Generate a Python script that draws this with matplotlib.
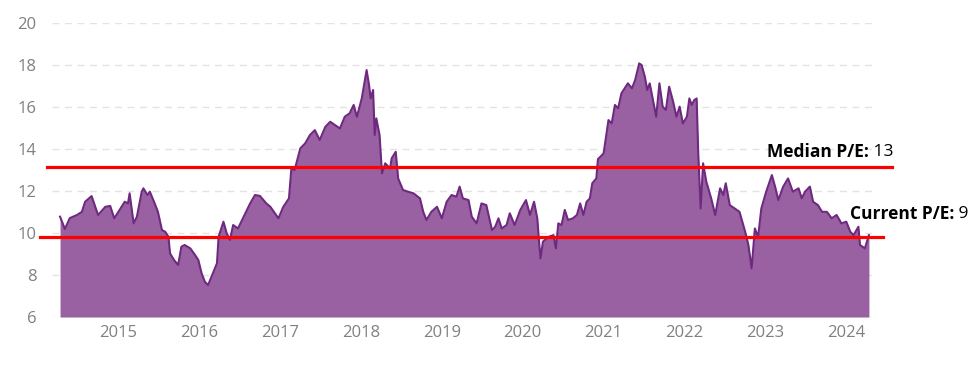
import numpy as np
import matplotlib
matplotlib.use("Agg")
import matplotlib.pyplot as plt

# P/E history (decimal year, P/E)
years = [
    2014.28, 2014.34, 2014.40, 2014.49, 2014.55, 2014.59, 2014.67, 2014.75, 2014.84, 2014.90,
    2014.95, 2015.04, 2015.08, 2015.12, 2015.14, 2015.19, 2015.23, 2015.29, 2015.31, 2015.36,
    2015.39, 2015.45, 2015.49, 2015.54, 2015.58, 2015.62, 2015.64, 2015.69, 2015.74, 2015.78,
    2015.82, 2015.89, 2015.95, 2015.99, 2016.03, 2016.07, 2016.11, 2016.17, 2016.22, 2016.24,
    2016.30, 2016.34, 2016.38, 2016.42, 2016.48, 2016.55, 2016.63, 2016.69, 2016.75, 2016.83,
    2016.88, 2016.98, 2017.04, 2017.11, 2017.14, 2017.18, 2017.25, 2017.31, 2017.37, 2017.43,
    2017.49, 2017.56, 2017.62, 2017.68, 2017.74, 2017.80, 2017.86, 2017.91, 2017.95, 2018.01,
    2018.07, 2018.10, 2018.12, 2018.15, 2018.17, 2018.19, 2018.23, 2018.26, 2018.30, 2018.36,
    2018.38, 2018.43, 2018.46, 2018.52, 2018.58, 2018.65, 2018.73, 2018.77, 2018.81, 2018.87,
    2018.94, 2019.00, 2019.06, 2019.12, 2019.18, 2019.22, 2019.26, 2019.33, 2019.37, 2019.43,
    2019.49, 2019.55, 2019.62, 2019.66, 2019.70, 2019.74, 2019.80, 2019.84, 2019.90, 2019.97,
    2020.04, 2020.09, 2020.14, 2020.18, 2020.20, 2020.22, 2020.25, 2020.32, 2020.38, 2020.41,
    2020.44, 2020.48, 2020.52, 2020.56, 2020.62, 2020.67, 2020.71, 2020.75, 2020.79, 2020.83,
    2020.86, 2020.91, 2020.93, 2021.00, 2021.06, 2021.10, 2021.14, 2021.18, 2021.22, 2021.26,
    2021.30, 2021.35, 2021.39, 2021.44, 2021.47, 2021.51, 2021.54, 2021.57, 2021.61, 2021.65,
    2021.69, 2021.73, 2021.77, 2021.81, 2021.86, 2021.90, 2021.94, 2021.98, 2022.03, 2022.06,
    2022.09, 2022.12, 2022.15, 2022.17, 2022.20, 2022.23, 2022.27, 2022.33, 2022.38, 2022.44,
    2022.48, 2022.51, 2022.56, 2022.62, 2022.68, 2022.75, 2022.79, 2022.83, 2022.87, 2022.91,
    2022.95, 2023.01, 2023.08, 2023.12, 2023.16, 2023.22, 2023.28, 2023.34, 2023.41, 2023.45,
    2023.49, 2023.55, 2023.59, 2023.65, 2023.70, 2023.76, 2023.82, 2023.88, 2023.94, 2024.00,
    2024.05, 2024.09, 2024.15, 2024.17, 2024.23, 2024.28,
]
pe = [
    10.78, 10.19, 10.71, 10.86, 11.01, 11.49, 11.76, 10.86, 11.25, 11.29,
    10.70, 11.25, 11.49, 11.41, 11.89, 10.46, 10.78, 11.97, 12.13, 11.81,
    11.97, 11.41, 11.01, 10.14, 10.06, 9.82, 9.03, 8.71, 8.48, 9.35,
    9.43, 9.27, 8.95, 8.71, 8.08, 7.68, 7.52, 8.08, 8.56, 9.82,
    10.54, 9.99, 9.67, 10.38, 10.22, 10.78, 11.41, 11.81, 11.77, 11.41,
    11.25, 10.70, 11.25, 11.65, 13.08, 13.00, 14.03, 14.27, 14.67, 14.90,
    14.43, 15.06, 15.30, 15.14, 14.98, 15.54, 15.70, 16.10, 15.54, 16.41,
    17.76, 17.05, 16.41, 16.81, 14.67, 15.46, 14.67, 12.84, 13.32, 13.08,
    13.56, 13.87, 12.60, 12.05, 11.97, 11.89, 11.65, 11.01, 10.62, 11.01,
    11.25, 10.70, 11.49, 11.81, 11.73, 12.21, 11.65, 11.57, 10.78, 10.46,
    11.41, 11.33, 10.14, 10.30, 10.70, 10.22, 10.38, 10.94, 10.38, 11.10,
    11.57, 10.86, 11.49, 10.70, 9.67, 8.79, 9.59, 9.82, 9.90, 9.27,
    10.46, 10.38, 11.10, 10.62, 10.70, 10.86, 11.41, 10.86, 11.49, 11.65,
    12.37, 12.60, 13.52, 13.79, 15.38, 15.22, 16.10, 15.94, 16.65, 16.89,
    17.13, 16.89, 17.29, 18.08, 18.00, 17.44, 16.81, 17.13, 16.33, 15.54,
    17.13, 16.02, 15.86, 16.97, 16.25, 15.54, 16.02, 15.22, 15.54, 16.41,
    16.10, 16.33, 16.41, 13.79, 11.17, 13.32, 12.44, 11.65, 10.86, 12.13,
    11.81, 12.37, 11.33, 11.17, 11.01, 10.06, 9.43, 8.32, 10.22, 9.82,
    11.17, 11.97, 12.76, 12.21, 11.57, 12.21, 12.60, 11.97, 12.13, 11.65,
    11.97, 12.21, 11.49, 11.33, 11.01, 11.01, 10.70, 10.86, 10.46, 10.54,
    10.06, 9.90, 10.30, 9.43, 9.27, 9.90,
]

tick_years = [2015, 2016, 2017, 2018, 2019, 2020, 2021, 2022, 2023, 2024]
y_ticks = [6, 8, 10, 12, 14, 16, 18, 20]

median_pe = 13.16
current_pe = 9.8
median_label = ("Median P/E:", " 13")
current_label = ("Current P/E:", " 9")

FILL = "#9961a1"
EDGE = "#6e2a80"
RED = "#ff0000"

plt.rcParams["font.family"] = ["Open Sans", "DejaVu Sans"]

fig = plt.figure(figsize=(9.75, 3.72), dpi=100)
ax = fig.add_axes([0.0533, 0.1478, 0.8462, 0.7902])

ax.fill_between(years, 6, pe, color=FILL, lw=0, zorder=2)
ax.plot(years, pe, color=EDGE, lw=1.5, zorder=3)

ax.set_xlim(2014.18, 2024.38)
ax.set_ylim(6, 20)
ax.set_xticks(tick_years)
ax.set_xticklabels([str(y) for y in tick_years])
ax.set_yticks(y_ticks)

ax.grid(axis="y", color="#e3e3e3", ls=(0, (5, 4)), lw=1, zorder=0)
for s in ax.spines.values():
    s.set_visible(False)
ax.tick_params(length=0, labelsize=12, labelcolor="#808080")
ax.tick_params(axis="y", pad=11)
ax.tick_params(axis="x", pad=6)

# red reference lines (run a bit past the plot area, like the original)
ax.plot([2014.12, 2024.57], [median_pe, median_pe], color=RED, lw=2.3, clip_on=False, zorder=4)
ax.plot([2014.03, 2024.46], [current_pe, current_pe], color=RED, lw=2.3, clip_on=False, zorder=4)

t1 = ax.text(2023.02, 13.86, median_label[0], fontsize=12.5, fontweight="bold",
             va="center", ha="left", clip_on=False)
ax.annotate(median_label[1], xy=(1, 0.5), xycoords=t1, fontsize=12.5,
            va="center", ha="left", annotation_clip=False)
t2 = ax.text(2024.04, 10.9, current_label[0], fontsize=12.5, fontweight="bold",
             va="center", ha="left", clip_on=False)
ax.annotate(current_label[1], xy=(1, 0.5), xycoords=t2, fontsize=12.5,
            va="center", ha="left", annotation_clip=False)

fig.savefig("out.png", dpi=100)
